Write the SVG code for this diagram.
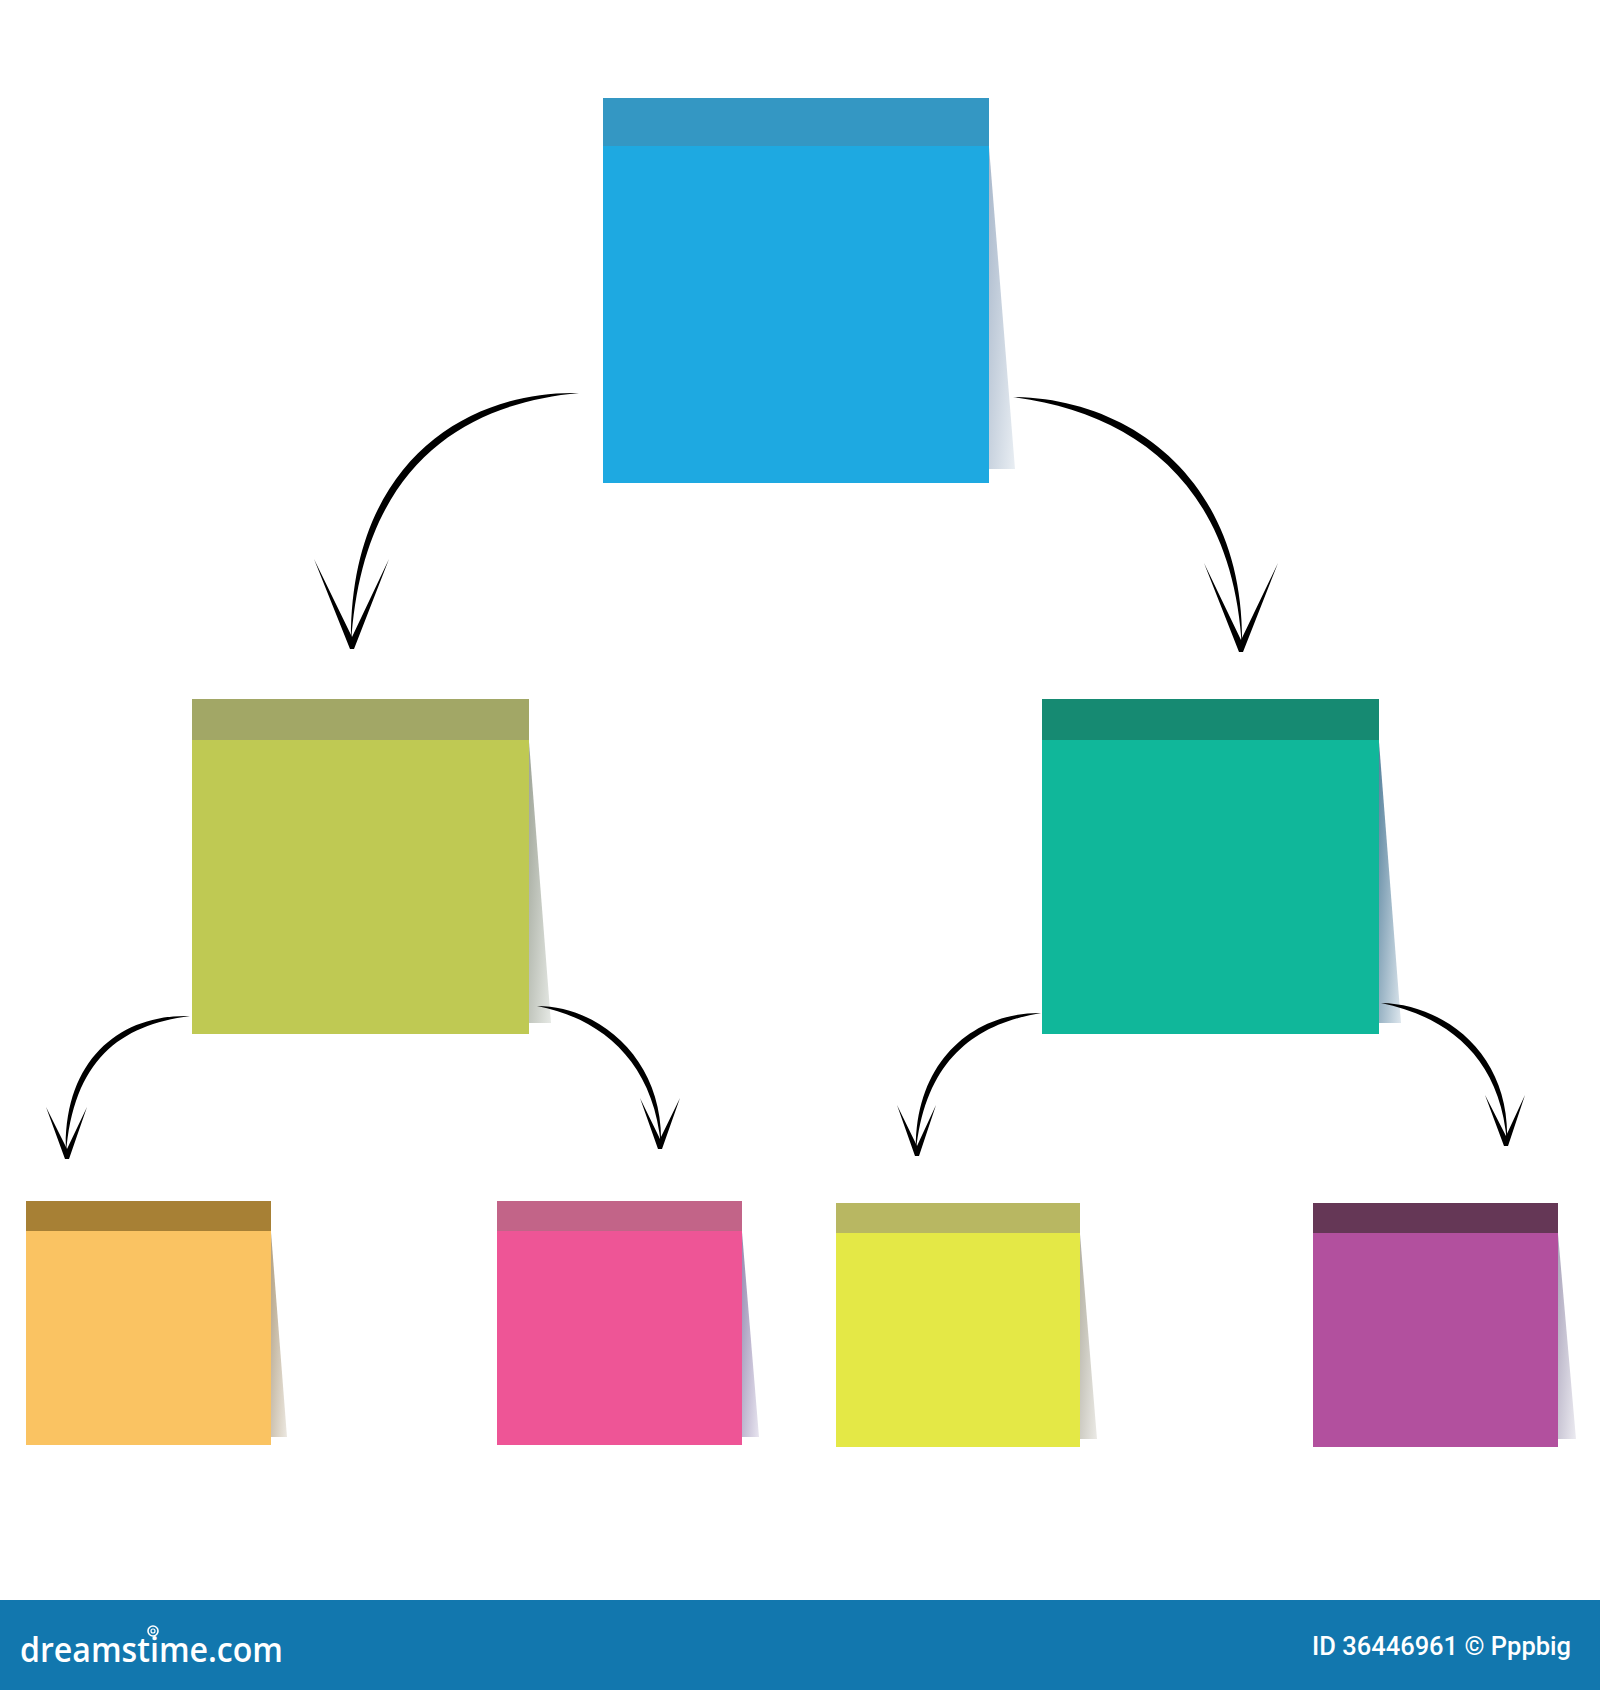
<svg xmlns="http://www.w3.org/2000/svg" width="1600" height="1690" viewBox="0 0 1600 1690">
<style>
.arrow{fill:#000}
.foot{fill:#fff}
</style>
<defs>
<linearGradient id="fBlue" x1="0" y1="0" x2="1" y2="1"><stop offset="0" stop-color="#a9b8cb"/><stop offset="1" stop-color="#e9eef3"/></linearGradient>
<linearGradient id="fGreen" x1="0" y1="0" x2="1" y2="1"><stop offset="0" stop-color="#9ea497"/><stop offset="1" stop-color="#e6e9e5"/></linearGradient>
<linearGradient id="fTeal" x1="0" y1="0" x2="1" y2="1"><stop offset="0" stop-color="#56819c"/><stop offset="1" stop-color="#dde6ed"/></linearGradient>
<linearGradient id="fOrange" x1="0" y1="0" x2="1" y2="1"><stop offset="0" stop-color="#b1a083"/><stop offset="1" stop-color="#ece8e1"/></linearGradient>
<linearGradient id="fPink" x1="0" y1="0" x2="1" y2="1"><stop offset="0" stop-color="#968ab0"/><stop offset="1" stop-color="#e8e5f0"/></linearGradient>
<linearGradient id="fYellow" x1="0" y1="0" x2="1" y2="1"><stop offset="0" stop-color="#b3b0a2"/><stop offset="1" stop-color="#ebeae6"/></linearGradient>
<linearGradient id="fPurple" x1="0" y1="0" x2="1" y2="1"><stop offset="0" stop-color="#aaa4bb"/><stop offset="1" stop-color="#ecebf1"/></linearGradient>
</defs>
<rect width="1600" height="1690" fill="#fff"/>

<g id="node-top">
<polygon points="989,147 1015,469 989,469" fill="url(#fBlue)"/>
<rect x="603" y="98" width="386" height="385" fill="#1ea9e1"/>
<rect x="603" y="98" width="386" height="48" fill="#3497c3"/>
</g>
<g id="node-mid-left">
<polygon points="529,742 551,1023 529,1023" fill="url(#fGreen)"/>
<rect x="192" y="699" width="337" height="335" fill="#bfc953"/>
<rect x="192" y="699" width="337" height="41" fill="#a2a766"/>
</g>
<g id="node-mid-right">
<polygon points="1379,742 1401,1023 1379,1023" fill="url(#fTeal)"/>
<rect x="1042" y="699" width="337" height="335" fill="#10b79a"/>
<rect x="1042" y="699" width="337" height="41" fill="#168a72"/>
</g>
<g id="node-bottom-1">
<polygon points="271,1232 287,1437 271,1437" fill="url(#fOrange)"/>
<rect x="26" y="1201" width="245" height="244" fill="#fac362"/>
<rect x="26" y="1201" width="245" height="30" fill="#a78035"/>
</g>
<g id="node-bottom-2">
<polygon points="742,1232 759,1437 742,1437" fill="url(#fPink)"/>
<rect x="497" y="1201" width="245" height="244" fill="#ee5596"/>
<rect x="497" y="1201" width="245" height="30" fill="#c26488"/>
</g>
<g id="node-bottom-3">
<polygon points="1080,1234 1097,1439 1080,1439" fill="url(#fYellow)"/>
<rect x="836" y="1203" width="244" height="244" fill="#e4e846"/>
<rect x="836" y="1203" width="244" height="30" fill="#b8b762"/>
</g>
<g id="node-bottom-4">
<polygon points="1558,1234 1576,1439 1558,1439" fill="url(#fPurple)"/>
<rect x="1313" y="1203" width="245" height="244" fill="#b2509e"/>
<rect x="1313" y="1203" width="245" height="30" fill="#653756"/>
</g>

<g id="connectors">
<path class="arrow" d="M579,393 C470,390 348,460 351,645 C362,460 470,403 579,393 Z"/>
<path class="arrow" d="M314,559 L350,649 L354,649 L389,559 L352,637 Z"/>

<path class="arrow" d="M1013,397 C1130,398 1246,480 1242,648 C1233,480 1130,412 1013,397 Z"/>
<path class="arrow" d="M1204,563 L1239,652 L1243,652 L1278,563 L1241,640 Z"/>

<path class="arrow" d="M190,1016 C120,1014 62,1060 66,1155 C73,1060 120,1025 190,1016 Z"/>
<path class="arrow" d="M46,1107 L65,1159 L69,1159 L87,1107 L67,1149 Z"/>

<path class="arrow" d="M537,1006 C600,1006 664,1060 661,1145 C653,1060 600,1018 537,1006 Z"/>
<path class="arrow" d="M640,1098 L658,1149 L662,1149 L680,1098 L660,1139 Z"/>

<path class="arrow" d="M1041,1013 C975,1012 914,1060 916,1152 C925,1060 975,1024 1041,1013 Z"/>
<path class="arrow" d="M897,1105 L915,1156 L919,1156 L936,1105 L917,1146 Z"/>

<path class="arrow" d="M1381,1003 C1445,1004 1511,1055 1507,1142 C1500,1055 1445,1016 1381,1003 Z"/>
<path class="arrow" d="M1485,1095 L1504,1146 L1508,1146 L1525,1095 L1506,1136 Z"/>
</g>

<g id="footer">
<rect x="0" y="1600" width="1600" height="90" fill="#1277ae"/>
<text class="foot" x="20" y="1662" font-family="'Open Sans', 'Liberation Sans', sans-serif" font-weight="600" font-size="34" textLength="263" lengthAdjust="spacingAndGlyphs">dreamstime.com</text>
<circle cx="153" cy="1631" r="5" fill="none" stroke="#fff" stroke-width="1.6"/>
<circle cx="153" cy="1631" r="2" fill="none" stroke="#fff" stroke-width="1.2"/>
<text class="foot" x="1571" y="1655" text-anchor="end" font-family="Roboto, 'Liberation Sans', sans-serif" font-weight="500" font-size="25" textLength="259" lengthAdjust="spacingAndGlyphs">ID 36446961 © Pppbig</text>
</g>
</svg>
